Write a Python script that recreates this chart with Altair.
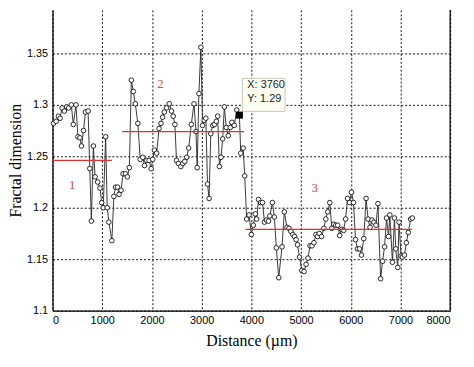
import altair as alt
import pandas as pd

distance = [20, 74, 119, 153, 193, 239, 285, 324, 378, 418,
            472, 511, 551, 583, 623, 663, 716, 750, 782, 822,
            856, 909, 955, 989, 1021, 1069, 1100, 1134, 1194, 1234,
            1268, 1307, 1339, 1379, 1419, 1467, 1506, 1546, 1586, 1626,
            1666, 1717, 1765, 1817, 1851, 1896, 1944, 1984, 2016, 2050,
            2095, 2143, 2183, 2215, 2249, 2294, 2348, 2394, 2428, 2462,
            2494, 2533, 2581, 2621, 2661, 2700, 2740, 2792, 2846, 2886,
            2911, 2945, 2985, 3019, 3051, 3085, 3118, 3150, 3184, 3224,
            3258, 3297, 3323, 3357, 3389, 3423, 3457, 3496, 3536, 3576,
            3608, 3656, 3707, 3760, 3787, 3835, 3867, 3906, 3954, 4000,
            4040, 4080, 4105, 4145, 4185, 4225, 4264, 4304, 4344, 4372,
            4424, 4463, 4503, 4551, 4617, 4663, 4716, 4756, 4796, 4836,
            4869, 4901, 4929, 4969, 5015, 5061, 5101, 5140, 5180, 5220,
            5260, 5299, 5333, 5367, 5413, 5459, 5498, 5538, 5578, 5618,
            5658, 5697, 5737, 5777, 5817, 5857, 5896, 5936, 5976, 6016,
            6056, 6095, 6135, 6175, 6215, 6262, 6308, 6348, 6388, 6428,
            6467, 6507, 6547, 6601, 6640, 6680, 6720, 6760, 6786, 6839,
            6879, 6905, 6945, 6971, 7011, 7039, 7079, 7118, 7158, 7204,
            7238]

fractal = [1.282, 1.284, 1.289, 1.287, 1.297, 1.294, 1.298, 1.297, 1.300, 1.281,
           1.300, 1.269, 1.268, 1.260, 1.275, 1.293, 1.294, 1.238, 1.187, 1.260,
           1.230, 1.225, 1.219, 1.205, 1.200, 1.269, 1.200, 1.186, 1.168, 1.211,
           1.220, 1.220, 1.213, 1.217, 1.233, 1.233, 1.230, 1.239, 1.324, 1.313,
           1.301, 1.282, 1.247, 1.249, 1.241, 1.246, 1.246, 1.238, 1.247, 1.256,
           1.253, 1.277, 1.282, 1.288, 1.293, 1.297, 1.301, 1.294, 1.289, 1.281,
           1.246, 1.243, 1.240, 1.243, 1.245, 1.249, 1.258, 1.281, 1.301, 1.274,
           1.239, 1.311, 1.356, 1.280, 1.285, 1.287, 1.223, 1.209, 1.272, 1.280,
           1.281, 1.284, 1.289, 1.240, 1.249, 1.267, 1.298, 1.278, 1.270, 1.278,
           1.283, 1.280, 1.295, 1.290, 1.253, 1.258, 1.231, 1.189, 1.193, 1.174,
           1.183, 1.194, 1.189, 1.208, 1.205, 1.205, 1.186, 1.188, 1.187, 1.192,
           1.205, 1.191, 1.161, 1.132, 1.162, 1.196, 1.181, 1.180, 1.177, 1.174,
           1.172, 1.169, 1.164, 1.152, 1.139, 1.138, 1.145, 1.151, 1.163, 1.163,
           1.166, 1.174, 1.172, 1.175, 1.172, 1.180, 1.189, 1.196, 1.205, 1.180,
           1.184, 1.183, 1.183, 1.173, 1.179, 1.178, 1.189, 1.209, 1.205, 1.215,
           1.205, 1.169, 1.160, 1.160, 1.154, 1.170, 1.209, 1.189, 1.181, 1.188,
           1.186, 1.183, 1.204, 1.131, 1.148, 1.162, 1.190, 1.172, 1.193, 1.147,
           1.190, 1.160, 1.142, 1.186, 1.153, 1.152, 1.154, 1.166, 1.176, 1.189,
           1.190]

# segment means (red lines)
seg_start = [0, 1400, 3880]
seg_end = [1194, 3854, 7230]
seg_level = [1.246, 1.274, 1.179]

# segment labels
lab_text = ["1", "2", "3"]
lab_x = [398, 2169, 5274]
lab_y = [1.222, 1.320, 1.219]

# data tip
tip_x = 3760
tip_y = 1.29
tip_lines = ["X: 3760", "Y: 1.29"]
tip_box_x = [3821, 4677]
tip_box_y = [1.2936, 1.3257]
tip_text_y = [1.319, 1.3055]
tip_text_x = 3920

x_ticks = [0, 1000, 2000, 3000, 4000, 5000, 6000, 7000, 8000]
y_ticks = [1.1, 1.15, 1.2, 1.25, 1.3, 1.35]

X_DOM = [0, 8000]
Y_DOM = [1.1, 1.3923]

df = pd.DataFrame({"d": distance, "f": fractal})
seg_df = pd.DataFrame({"x": seg_start, "x2": seg_end, "y": seg_level})
lab_df = pd.DataFrame({"t": lab_text, "x": lab_x, "y": lab_y})
tip_df = pd.DataFrame({"x": [tip_x], "y": [tip_y]})
box_df = pd.DataFrame({"x": [tip_box_x[0]], "x2": [tip_box_x[1]],
                       "y": [tip_box_y[0]], "y2": [tip_box_y[1]]})
tiptxt_df = pd.DataFrame({"t": tip_lines, "x": [tip_text_x] * 2, "y": tip_text_y})
border_df = pd.DataFrame({"x": [X_DOM[1]]})

xs = alt.Scale(domain=X_DOM, nice=False, zero=False)
ys = alt.Scale(domain=Y_DOM, nice=False, zero=False)

common = dict(
    grid=True, gridColor="#111111", gridDash=[2, 2], gridWidth=1, gridOpacity=1,
    domainColor="black", domainWidth=1.3, ticks=False,
    labelFont="Liberation Sans", labelFontSize=11, labelColor="black",
    titleFont="Liberation Serif", titleFontSize=16, titleFontWeight="normal",
    titleColor="black",
)

x_axis = alt.Axis(values=x_ticks, format="d", title="Distance (µm)",
                  labelPadding=4, titlePadding=7, **common)
y_axis = alt.Axis(values=y_ticks, format=".2~f", title="Fractal dimension",
                  labelPadding=5, titlePadding=3, **common)

base_x = alt.X("d:Q", scale=xs, axis=x_axis)
base_y = alt.Y("f:Q", scale=ys, axis=y_axis)

line = alt.Chart(df).mark_line(color="#222222", strokeWidth=0.9).encode(x=base_x, y=base_y)
pts = alt.Chart(df).mark_point(shape="circle", filled=True, fill="white",
                               stroke="#111111", strokeWidth=0.9, size=22,
                               opacity=1).encode(x="d:Q", y="f:Q")

segs = alt.Chart(seg_df).mark_rule(color="#e0312f", strokeWidth=1.4).encode(
    x=alt.X("x:Q", scale=xs), x2="x2:Q", y=alt.Y("y:Q", scale=ys))

labs = alt.Chart(lab_df).mark_text(color="#d44a45", font="Liberation Serif",
                                   fontSize=13).encode(
    x=alt.X("x:Q", scale=xs), y=alt.Y("y:Q", scale=ys), text="t:N")

border = alt.Chart(border_df).mark_rule(color="black", strokeWidth=1.3).encode(
    x=alt.X("x:Q", scale=xs))

box = alt.Chart(box_df).mark_rect(fill="#fffff4", stroke="#c8c8c0", strokeWidth=1).encode(
    x=alt.X("x:Q", scale=xs), x2="x2:Q", y=alt.Y("y:Q", scale=ys), y2="y2:Q")

tiptxt = alt.Chart(tiptxt_df).mark_text(align="left", baseline="middle", fontSize=11,
                                        font="Liberation Sans", color="#222222").encode(
    x=alt.X("x:Q", scale=xs), y=alt.Y("y:Q", scale=ys), text="t:N")

marker = alt.Chart(tip_df).mark_square(filled=True, color="black", size=50, opacity=1).encode(
    x=alt.X("x:Q", scale=xs), y=alt.Y("y:Q", scale=ys))

chart = alt.layer(line, pts, segs, labs, border, box, tiptxt, marker).properties(
    width=402, height=304,
    background="white",
    autosize=alt.AutoSizeParams(type="none"),
    padding={"left": 45, "top": 0, "right": 16, "bottom": 47},
).configure_view(stroke=None)

chart.save("out.html", embed_options={"renderer": "svg", "actions": False})
